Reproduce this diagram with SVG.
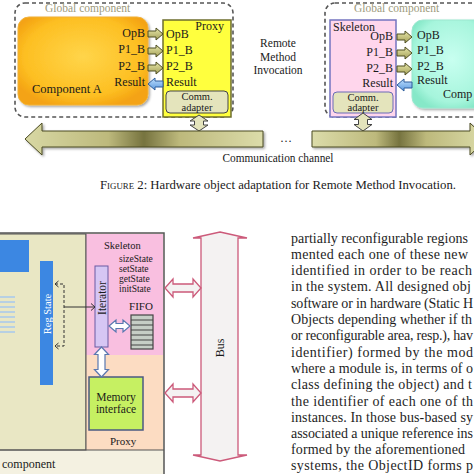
<svg xmlns="http://www.w3.org/2000/svg" width="474" height="474" viewBox="0 0 474 474">
<defs>
<radialGradient id="gA" cx="0.5" cy="0.45" r="0.6"><stop offset="0" stop-color="#ffd54a"/><stop offset="0.75" stop-color="#fdbf22"/><stop offset="1" stop-color="#f4a312"/></radialGradient>
<radialGradient id="gB" cx="0.5" cy="0.45" r="0.6"><stop offset="0" stop-color="#c8fff0"/><stop offset="0.8" stop-color="#a6f5dc"/><stop offset="1" stop-color="#86e8c8"/></radialGradient>
<linearGradient id="gOl" x1="0" y1="0" x2="0" y2="1"><stop offset="0" stop-color="#e8e8aa"/><stop offset="1" stop-color="#a4a058"/></linearGradient>
<linearGradient id="gBl" x1="0" y1="0" x2="0" y2="1"><stop offset="0" stop-color="#bfe0ff"/><stop offset="1" stop-color="#5a98de"/></linearGradient>
<linearGradient id="chL" gradientUnits="userSpaceOnUse" x1="25" y1="0" x2="263" y2="0"><stop offset="0" stop-color="#d8d8a4"/><stop offset="0.35" stop-color="#bdb97c"/><stop offset="0.5" stop-color="#76733f"/><stop offset="0.65" stop-color="#bdb97c"/><stop offset="1" stop-color="#dcdcaa"/></linearGradient>
<linearGradient id="chR" gradientUnits="userSpaceOnUse" x1="312" y1="0" x2="480" y2="0"><stop offset="0" stop-color="#dcdcaa"/><stop offset="0.38" stop-color="#bdb97c"/><stop offset="0.52" stop-color="#76733f"/><stop offset="0.68" stop-color="#bdb97c"/><stop offset="1" stop-color="#d8d8a4"/></linearGradient>
<path id="ar" d="M0,-3H8V-6L15,0L8,6V3H0Z"/>
<path id="al" d="M15,-3H7V-6L0,0L7,6V3H15Z"/>
<filter id="sh" x="-10%" y="-10%" width="130%" height="130%"><feDropShadow dx="1.5" dy="1.5" stdDeviation="1.2" flood-color="#000" flood-opacity="0.35"/></filter>
</defs>
<style>
.s{font-family:"Liberation Serif","Times New Roman",serif;fill:#1a1a1a}
.l{font-size:12px}
.gc{font-size:11.5px;fill:#9d9a7c}
.dash{fill:none;stroke:#555;stroke-width:1.6;stroke-dasharray:4 3}
.oa{fill:url(#gOl);stroke:#4e4e22;stroke-width:1}
.ba{fill:url(#gBl);stroke:#2d5d9c;stroke-width:1}
.ca{fill:#e4e4bc;stroke:#444;stroke-width:1}
.bt{font-size:14px;fill:#1e1e1e}
.sm{font-size:10.5px}
.st{font-size:9.5px}
.busa{fill:#f4f2f2;stroke:#cc5a7a;stroke-width:1.3}
.wa{fill:#fff;stroke:#5a78b0;stroke-width:1.2}
</style>
<rect width="474" height="474" fill="#fff"/>

<!-- TOP FIGURE -->
<g id="global-left"><rect class="dash" x="15" y="3" width="218" height="114" rx="10"/><text class="s gc" x="45" y="12">Global component</text></g>
<g id="global-right"><rect class="dash" x="325" y="3" width="170" height="114" rx="10"/><text class="s gc" x="354" y="12">Global component</text></g>

<g id="componentA">
<rect x="18" y="17" width="130" height="88" rx="11" fill="url(#gA)" stroke="#f2b23a" stroke-width="1" filter="url(#sh)"/>
<text class="s" x="32" y="93" font-size="12.5">Component A</text>
<g class="s l" text-anchor="end"><text x="145" y="37">OpB</text><text x="145" y="53">P1_B</text><text x="145" y="70">P2_B</text><text x="145" y="86">Result</text></g>
</g>

<g id="proxy">
<rect x="163" y="20" width="68" height="97" fill="#ffff3e" stroke="#6d6d2e" stroke-width="1.5"/>
<text class="s l" x="224" y="30" text-anchor="end">Proxy</text>
<g class="s l"><text x="166" y="38">OpB</text><text x="166" y="54">P1_B</text><text x="166" y="70">P2_B</text><text x="166" y="86">Result</text></g>
<rect class="ca" x="166" y="91" width="62" height="22" rx="4"/>
<text class="s" x="197" y="99.5" font-size="10.5" text-anchor="middle">Comm.</text>
<text class="s" x="197" y="110.5" font-size="10.5" text-anchor="middle">adapter</text>
</g>

<g id="rmi-label" class="s" font-size="11.5" text-anchor="middle"><text x="278" y="47">Remote</text><text x="278" y="61">Method</text><text x="278" y="74">Invocation</text></g>

<g id="skeleton-top">
<rect x="330" y="20" width="66" height="97" fill="#ffd6ec" stroke="#7474c0" stroke-width="1.5"/>
<text class="s l" x="333" y="31">Skeleton</text>
<g class="s l" text-anchor="end"><text x="393" y="40">OpB</text><text x="393" y="56">P1_B</text><text x="393" y="72">P2_B</text><text x="393" y="87">Result</text></g>
<rect x="333" y="92" width="60" height="21" rx="4" fill="#e4e4bc" stroke="#6a6ab8" stroke-width="1"/>
<text class="s" x="363" y="100.5" font-size="10.5" text-anchor="middle">Comm.</text>
<text class="s" x="363" y="111" font-size="10.5" text-anchor="middle">adapter</text>
</g>

<g id="componentB">
<rect x="412" y="20" width="80" height="88" rx="11" fill="url(#gB)" stroke="#9ce8d0" stroke-width="1" filter="url(#sh)"/>
<g class="s l"><text x="417" y="39">OpB</text><text x="417" y="54">P1_B</text><text x="417" y="70">P2_B</text><text x="417" y="84">Result</text><text x="443" y="98">Comp</text></g>
</g>

<g id="connectors-top">
<use href="#ar" class="oa" x="148" y="34"/>
<use href="#ar" class="oa" x="148" y="51"/>
<use href="#ar" class="oa" x="148" y="68"/>
<use href="#al" class="ba" x="148" y="84"/>
<use href="#ar" class="oa" x="397" y="37"/>
<use href="#ar" class="oa" x="397" y="53"/>
<use href="#ar" class="oa" x="397" y="69"/>
<use href="#al" class="ba" x="397" y="85"/>
<path class="ca" d="M199,115L208,121H203.5V125H208L199,131L190,125H194.5V121H190Z"/>
<path class="ca" d="M363,113L372,119.5H367.5V124.5H372L363,131L354,124.5H358.5V119.5H354Z"/>
</g>

<g id="channel">
<polygon points="25,139 42,123 42,131 263,131 263,147 42,147 42,155" fill="url(#chL)" stroke="#4a4a22" stroke-width="1" filter="url(#sh)"/>
<polygon points="312,131 470,131 470,123 487,139 470,155 470,147 312,147" fill="url(#chR)" stroke="#4a4a22" stroke-width="1" filter="url(#sh)"/>
<text class="s" x="286" y="142" font-size="12" text-anchor="middle">…</text>
<text class="s" x="278" y="162" font-size="11.5" text-anchor="middle" textLength="111" lengthAdjust="spacingAndGlyphs">Communication channel</text>
</g>

<text id="caption" class="s" x="100" y="189" font-size="13" textLength="356" lengthAdjust="spacingAndGlyphs"><tspan font-variant="small-caps">Figure</tspan> 2: Hardware object adaptation for Remote Method Invocation.</text>

<!-- BOTTOM FIGURE -->
<g id="global-bottom">
<rect x="-2" y="233" width="166" height="245" fill="#f4f1e1" stroke="#555" stroke-width="1.5"/>
<rect x="-2" y="234" width="88" height="216" fill="#e9e7c4" stroke="#555" stroke-width="1"/>
<rect x="86" y="234" width="77" height="121" fill="#f9bfe0"/>
<rect x="86" y="355" width="77" height="95" fill="#fcdcc2"/>
<line x1="86" y1="234" x2="86" y2="450" stroke="#555" stroke-width="1"/>
<line x1="-2" y1="450" x2="164" y2="450" stroke="#555" stroke-width="1"/>
<text class="s" x="2" y="468" font-size="12">component</text>
</g>

<g id="component-internals">
<rect x="-1" y="240" width="30" height="32" fill="#3c87e2"/>
<g stroke="#a6c8ee" stroke-width="1.5"><line x1="0" y1="297" x2="15" y2="297"/><line x1="0" y1="302" x2="15" y2="302"/><line x1="0" y1="307" x2="15" y2="307"/><line x1="0" y1="312" x2="15" y2="312"/><line x1="0" y1="317" x2="15" y2="317"/><line x1="0" y1="322" x2="15" y2="322"/><line x1="0" y1="327" x2="15" y2="327"/><line x1="0" y1="332" x2="15" y2="332"/></g>
</g>

<g id="reg-state">
<rect x="40" y="261" width="13" height="124" fill="#3c87e2"/>
<text class="s" font-size="10.5" style="fill:#fff" text-anchor="middle" transform="translate(50.5,314) rotate(-90)">Reg State</text>
</g>

<g id="skeleton-bottom">
<text class="s sm" x="104" y="249">Skeleton</text>
<g class="s st"><text x="119" y="261.5">sizeState</text><text x="119" y="271.5">setState</text><text x="119" y="281.5">getState</text><text x="119" y="292">initState</text></g>
</g>

<g id="iterator">
<rect x="95" y="266" width="13" height="81" fill="#d6c6f4" stroke="#6a5aa2" stroke-width="1"/>
<text class="s" font-size="11.5" text-anchor="middle" transform="translate(105.5,298) rotate(-90)">Iterator</text>
</g>

<g id="fifo">
<text class="s" x="141" y="310" font-size="11" text-anchor="middle">FIFO</text>
<rect x="131" y="315" width="22" height="34" fill="#c6cec6" stroke="#444" stroke-width="1.2"/>
<g stroke="#444" stroke-width="1"><line x1="131" y1="320" x2="153" y2="320"/><line x1="131" y1="325" x2="153" y2="325"/><line x1="131" y1="330" x2="153" y2="330"/><line x1="131" y1="335" x2="153" y2="335"/><line x1="131" y1="340" x2="153" y2="340"/><line x1="131" y1="345" x2="153" y2="345"/></g>
</g>

<g id="memory-interface">
<rect x="89" y="377" width="54" height="53" fill="#c6f062" stroke="#4a5a82" stroke-width="1.5"/>
<text class="s" x="116" y="401" font-size="11.5" text-anchor="middle">Memory</text>
<text class="s" x="116" y="413" font-size="11.5" text-anchor="middle">interface</text>
</g>
<text id="proxy-label" class="s" x="110" y="445" font-size="11">Proxy</text>

<g id="bus">
<polygon class="busa" points="220,232 247,238 238,238 238,455 247,455 220,461 193,455 201,455 201,238 193,238"/>
<text class="s" font-size="12" text-anchor="middle" transform="translate(224,348) rotate(-90)">Bus</text>
</g>

<g id="connectors-bottom">
<path d="M55,284H64V346H55" fill="none" stroke="#333" stroke-width="1" stroke-dasharray="3 2"/>
<path d="M58.5,281L55,284L58.5,287M58.5,343L55,346L58.5,349" fill="none" stroke="#333" stroke-width="1"/>
<path d="M64,307H95M91,303.5L95,307L91,310.5" fill="none" stroke="#333" stroke-width="1"/>
<path class="wa" d="M109,326L116,320V323.5H123V320L130,326L123,332V328.5H116V332Z"/>
<path class="wa" d="M101.5,347L108.5,354.5H105V369.5H108.5L101.5,377L94.5,369.5H98V354.5H94.5Z"/>
<path class="busa" d="M165,288L173,279V284H193V279L201,288L193,297V292H173V297Z"/>
<path class="busa" d="M165,393L173,384V389H193V384L201,393L193,402V397H173V402Z"/>
</g>

<g id="body-text" class="s bt" lengthAdjust="spacing">
<text x="291" y="242.5" textLength="177">partially reconfigurable regions</text>
<text x="291" y="258.8" textLength="177">mented each one of these new</text>
<text x="291" y="275.1" textLength="181">identified in order to be reach</text>
<text x="291" y="291.4" textLength="180">in the system. All designed obj</text>
<text x="291" y="307.7" textLength="182">software or in hardware (Static H</text>
<text x="291" y="324" textLength="181">Objects depending whether if th</text>
<text x="291" y="340.3" textLength="182">or reconfigurable area, resp.), hav</text>
<text x="291" y="356.6" textLength="182">identifier) formed by the mod</text>
<text x="291" y="372.9" textLength="182">where a module is, in terms of o</text>
<text x="291" y="389.2" textLength="181">class defining the object) and t</text>
<text x="291" y="405.5" textLength="182">the identifier of each one of th</text>
<text x="291" y="421.8" textLength="182">instances. In those bus-based sy</text>
<text x="291" y="438.1" textLength="182">associated a unique reference ins</text>
<text x="291" y="454.4" textLength="174">formed by the aforementioned</text>
<text x="291" y="470.3" textLength="182">systems, the ObjectID forms p</text>
</g>
</svg>
